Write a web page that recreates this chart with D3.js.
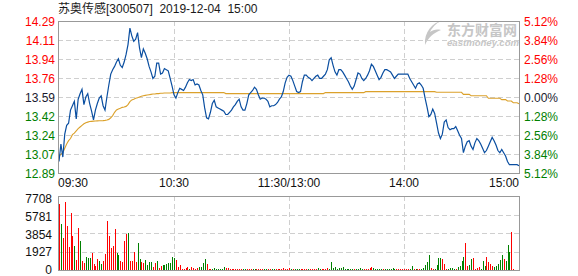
<!DOCTYPE html>
<html><head><meta charset="utf-8">
<script src="https://cdn.jsdelivr.net/npm/d3@7"></script>
<style>
body{margin:0;background:#fff}
svg{display:block}
text{font-family:"Liberation Sans",Arial,sans-serif;font-size:12px}
</style>
</head><body><svg id="c" width="578" height="276"></svg>
<script>
const titleName = "苏奥传感";
const titleRest = "[300507] 2019-12-04 15:00";
const prevClose = 13.59;
const priceTicks = ["14.29","14.11","13.94","13.76","13.59","13.42","13.24","13.07","12.89"];
const pctSteps = [5.12,3.84,2.56,1.28,0,-1.28,-2.56,-3.84,-5.12];
const pctTicks = ["5.12%","3.84%","2.56%","1.28%","0.00%","1.28%","2.56%","3.84%","5.12%"];
const timeLabels = ["09:30","10:30","11:30/13:00","14:00","15:00"];
const timeIdx = [0,60,120,180,240];
const volTicks = [0,1927,3854,5781,7708];

const price = [
13.00,13.16,13.04,13.25,13.33,13.35,13.47,13.51,13.55,13.39,
13.57,13.62,13.66,13.52,13.59,13.62,13.53,13.46,13.38,13.47,
13.53,13.58,13.60,13.51,13.47,13.59,13.70,13.80,13.84,13.87,
13.91,13.94,13.88,13.86,13.91,13.98,14.07,14.22,14.15,14.10,
14.12,14.18,14.04,13.95,14.03,13.99,13.94,13.87,13.82,13.76,
13.78,13.90,13.90,13.80,13.81,13.85,13.84,13.83,13.76,13.69,
13.61,13.58,13.63,13.67,13.66,13.65,13.68,13.72,13.75,13.74,
13.75,13.70,13.71,13.70,13.65,13.61,13.49,13.40,13.39,13.45,
13.53,13.56,13.50,13.49,13.48,13.47,13.46,13.43,13.43,13.45,
13.47,13.50,13.52,13.55,13.57,13.50,13.47,13.47,13.53,13.61,
13.63,13.65,13.68,13.66,13.61,13.57,13.58,13.58,13.57,13.55,
13.50,13.51,13.51,13.52,13.54,13.57,13.59,13.64,13.72,13.77,
13.79,13.78,13.74,13.69,13.64,13.63,13.64,13.73,13.79,13.79,
13.77,13.76,13.74,13.76,13.78,13.79,13.76,13.76,13.78,13.80,
13.84,13.93,13.95,13.88,13.82,13.79,13.84,13.84,13.82,13.79,
13.76,13.73,13.69,13.66,13.69,13.75,13.81,13.80,13.76,13.74,
13.76,13.79,13.83,13.89,13.87,13.83,13.79,13.75,13.77,13.81,
13.84,13.84,13.83,13.82,13.79,13.76,13.78,13.80,13.80,13.80,
13.80,13.80,13.80,13.76,13.73,13.70,13.67,13.71,13.72,13.70,
13.67,13.58,13.50,13.41,13.43,13.48,13.44,13.35,13.26,13.21,
13.25,13.36,13.38,13.31,13.29,13.30,13.30,13.32,13.28,13.24,
13.21,13.08,13.14,13.18,13.19,13.14,13.11,13.17,13.21,13.19,
13.16,13.12,13.08,13.10,13.14,13.18,13.22,13.19,13.15,13.10,
13.08,13.11,13.08,13.05,13.00,12.97,12.97,12.97,12.97,12.97,
12.96];

const avgPrice = [
13.050,13.065,13.080,13.120,13.160,13.190,13.210,13.245,13.260,13.280,
13.300,13.315,13.330,13.345,13.355,13.360,13.365,13.367,13.369,13.370,
13.371,13.372,13.373,13.374,13.376,13.379,13.385,13.400,13.420,13.450,
13.471,13.480,13.486,13.495,13.498,13.504,13.520,13.547,13.563,13.569,
13.578,13.584,13.590,13.596,13.602,13.605,13.608,13.611,13.614,13.617,
13.617,13.621,13.621,13.624,13.624,13.627,13.627,13.627,13.627,13.630,
13.630,13.630,13.630,13.630,13.630,13.630,13.630,13.630,13.630,13.630,
13.630,13.630,13.630,13.630,13.630,13.630,13.630,13.630,13.630,13.630,
13.630,13.630,13.630,13.630,13.630,13.630,13.630,13.621,13.621,13.621,
13.621,13.621,13.621,13.621,13.621,13.621,13.621,13.621,13.621,13.621,
13.621,13.621,13.621,13.621,13.621,13.621,13.621,13.621,13.621,13.621,
13.621,13.621,13.621,13.621,13.621,13.621,13.621,13.621,13.621,13.621,
13.621,13.621,13.621,13.621,13.621,13.621,13.621,13.621,13.621,13.621,
13.621,13.621,13.621,13.621,13.621,13.621,13.621,13.621,13.621,13.630,
13.630,13.630,13.630,13.630,13.630,13.630,13.630,13.630,13.630,13.630,
13.630,13.630,13.630,13.630,13.630,13.630,13.630,13.630,13.630,13.630,
13.639,13.639,13.639,13.639,13.639,13.639,13.639,13.639,13.639,13.639,
13.639,13.639,13.639,13.639,13.639,13.639,13.639,13.639,13.639,13.639,
13.639,13.639,13.639,13.639,13.639,13.639,13.639,13.639,13.639,13.639,
13.639,13.639,13.639,13.639,13.639,13.639,13.639,13.633,13.633,13.633,
13.633,13.633,13.633,13.633,13.633,13.633,13.633,13.633,13.633,13.633,
13.633,13.614,13.614,13.614,13.614,13.602,13.602,13.602,13.602,13.602,
13.602,13.602,13.602,13.602,13.578,13.578,13.578,13.578,13.578,13.578,
13.578,13.566,13.566,13.566,13.553,13.553,13.553,13.538,13.538,13.538,
13.529];

const volume = [
6875,4791,3298,7083,4583,2361,5902,3541,2500,1042,
4340,3055,972,764,1319,1215,1285,1805,625,417,
1146,972,625,937,1667,5104,3541,2257,2500,4236,
1805,1562,937,833,3021,3784,3889,972,972,1910,
868,2847,1111,868,764,1042,521,833,833,278,
694,937,174,417,486,486,625,694,764,1389,
1250,1042,347,521,139,104,243,312,139,347,
174,104,208,278,347,764,1146,625,104,104,
139,208,104,104,104,104,312,208,208,104,
69,104,104,69,104,104,139,104,69,104,
104,104,139,104,69,104,104,104,139,104,
69,139,104,104,104,69,104,243,104,104,
208,104,104,104,104,69,104,104,104,104,
104,104,104,104,139,174,104,104,104,104,
208,104,868,174,312,104,174,243,312,104,
104,104,104,104,104,104,104,208,104,104,
104,104,208,347,243,139,104,104,104,104,
104,104,104,104,208,104,104,104,104,104,
104,104,104,104,417,104,104,104,104,139,
174,521,833,1562,208,139,104,521,1250,1250,
1146,625,104,139,208,208,139,104,278,417,
937,1354,2847,417,521,1146,1250,104,208,278,
104,937,417,1354,833,625,417,278,417,625,
1042,1562,1146,937,2604,1875,3958,69,0,0,
4271];

const volUp = [
1,0,1,1,1,1,1,1,0,1,
1,0,1,1,0,0,0,1,1,1,
1,0,0,1,1,1,1,1,1,1,
0,0,1,1,1,1,0,1,1,1,
1,0,0,1,1,0,0,0,0,1,
1,0,1,1,0,0,0,0,0,0,
0,1,1,1,1,1,1,1,0,1,
1,1,1,0,0,0,0,1,1,1,
0,0,0,0,0,0,0,1,1,1,
1,1,1,1,1,1,0,0,1,1,
1,0,0,1,1,1,1,0,0,1,
1,0,0,1,1,1,1,1,1,1,
1,0,1,0,0,0,1,1,1,1,
0,1,1,1,1,0,0,1,1,1,
1,0,0,0,0,0,0,0,0,0,
0,0,0,0,1,0,0,0,0,1,
1,1,1,1,0,0,0,0,0,1,
0,0,0,0,0,0,1,1,1,1,
1,1,1,0,0,1,0,1,1,0,
0,0,0,0,1,1,0,0,0,0,
1,1,1,0,0,0,0,1,0,0,
0,0,1,1,0,0,1,1,1,1,
0,0,0,1,1,1,1,0,0,0,
0,0,1,0,0,0,1,1,1,1,
0];

const RED = "#ff0000", GREEN = "#008000", DARK = "#1a1a2e";
const L = 58, R = 519, PT = 21, PB = 173, VT = 196, VB = 270;

const svg = d3.select("#c");
svg.append("rect").attr("width",578).attr("height",276).attr("fill","#fff");

const x = d3.scaleLinear().domain([0,240]).range([59,519]);
const y = d3.scaleLinear().domain([prevClose*(1-0.0512), prevClose*(1+0.0512)]).range([PB,PT]);
const yv = d3.scaleLinear().domain([0,7708]).range([VB,VT]);
const yvLab = d3.scaleLinear().domain([0,7708]).range([274,203]);

// watermark
const wm = svg.append("g").attr("fill","#c6c6c6");
wm.append("path").attr("d","M443,20 C432,23 424,32 425,45 C428,38 433,33 441,30 C436,29 433,30 430,32 C433,26 438,22 443,20 Z");
wm.append("text").attr("x",447).attr("y",35).style("font-family","'Noto Sans CJK SC'").style("font-size","14px").style("font-weight","bold").text("东方财富网");
wm.append("text").attr("x",447).attr("y",46).attr("textLength",72).attr("lengthAdjust","spacingAndGlyphs").style("font-size","9px").style("font-weight","bold").style("font-style","italic").text("eastmoney.com");

// grids
const grid = svg.append("g").attr("stroke","#cfcfcf").attr("stroke-dasharray","5,3").attr("shape-rendering","crispEdges");
pctSteps.slice(1,-1).forEach(p=>{
  const yy = Math.round(y(prevClose*(1+p/100)))+0.5;
  grid.append("line").attr("x1",L).attr("x2",R).attr("y1",yy).attr("y2",yy);
});
volTicks.slice(1,-1).forEach(v=>{
  const yy = Math.round(yv(v))+0.5;
  grid.append("line").attr("x1",L).attr("x2",R).attr("y1",yy).attr("y2",yy);
});
timeIdx.slice(1,-1).forEach(i=>{
  const xx = Math.round(x(i))+0.5;
  grid.append("line").attr("x1",xx).attr("x2",xx).attr("y1",PT).attr("y2",PB);
  grid.append("line").attr("x1",xx).attr("x2",xx).attr("y1",VT).attr("y2",VB);
});

// volume bars
svg.append("g").attr("shape-rendering","crispEdges").selectAll("rect").data(volume).join("rect")
  .attr("x",(d,i)=>Math.round(x(i))-0.5)
  .attr("width",1)
  .attr("y",d=>yv(d))
  .attr("height",d=>VB-yv(d))
  .attr("fill",(d,i)=>volUp[i]?RED:GREEN);

// lines
svg.append("path").datum(avgPrice).attr("fill","none").attr("stroke","#dba12b").attr("stroke-width",1.1)
  .attr("d",d3.line().x((d,i)=>x(i)).y(d=>y(d)));
svg.append("path").datum(price).attr("fill","none").attr("stroke","#0a4ea0").attr("stroke-width",1.2)
  .attr("d",d3.line().x((d,i)=>x(i)).y(d=>y(d)));

// borders
svg.append("rect").attr("x",L+0.5).attr("y",PT+0.5).attr("width",R-L).attr("height",PB-PT)
  .attr("fill","none").attr("stroke","#999").attr("shape-rendering","crispEdges");
svg.append("rect").attr("x",L+0.5).attr("y",VT+0.5).attr("width",R-L).attr("height",VB-VT)
  .attr("fill","none").attr("stroke","#999").attr("shape-rendering","crispEdges");

// price labels
const colorFor = p => p>0?RED:(p<0?GREEN:DARK);
priceTicks.forEach((t,k)=>{
  const yy = y(prevClose*(1+pctSteps[k]/100));
  svg.append("text").attr("x",55).attr("y",yy+4.5).attr("text-anchor","end").attr("fill",colorFor(pctSteps[k])).text(t);
  svg.append("text").attr("x",524).attr("y",yy+4.5).attr("fill",colorFor(pctSteps[k])).text(pctTicks[k]);
});

// time labels
timeLabels.forEach((t,k)=>{
  const anchor = k===0?"start":(k===timeLabels.length-1?"end":"middle");
  const xx = k===0?L:(k===timeLabels.length-1?R:x(timeIdx[k]));
  svg.append("text").attr("x",xx).attr("y",187).attr("text-anchor",anchor).attr("fill","#111").text(t);
});

// volume labels
volTicks.forEach(v=>{
  svg.append("text").attr("x",52).attr("y",yvLab(v)).attr("text-anchor","end").attr("fill","#111").text(v);
});

// title
const tt = svg.append("text").attr("x",58).attr("y",13).attr("fill","#1a1a1a");
tt.append("tspan").style("font-family","'Noto Sans CJK SC'").style("font-size","12px").text(titleName);
tt.append("tspan").text(titleRest.replace(" ", "\u00a0").replace(" ", "\u00a0\u00a0").replace("]", "]\u00a0"));
</script>
</body></html>
